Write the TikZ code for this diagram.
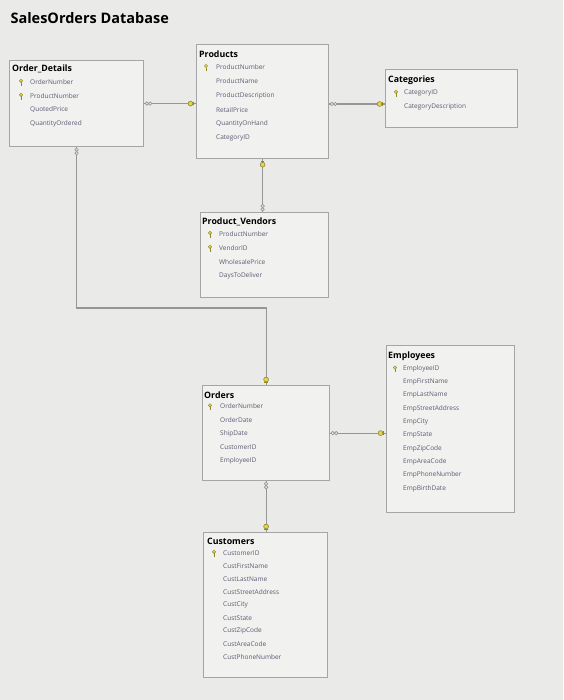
\documentclass[tikz,border=0pt]{standalone}
\usepackage{fontspec}
\setmainfont{Open Sans}
\usetikzlibrary{positioning}

\definecolor{bgcol}{RGB}{234,234,232}
\definecolor{boxfill}{RGB}{241,241,239}
\definecolor{boxline}{RGB}{165,165,165}
\definecolor{linkcol}{RGB}{150,150,150}
\definecolor{fieldcol}{RGB}{95,90,115}
\definecolor{keyyel}{RGB}{224,214,80}
\definecolor{keydark}{RGB}{145,135,40}

\begin{document}
\begin{tikzpicture}[x=1pt,y=-1pt]
	\tikzset{table/.style={draw=boxline, fill=boxfill, line width=1.2pt, anchor=north west, inner sep=0pt},
		tabname/.style={anchor=west, font=\fontsize{8.8}{10}\selectfont\bfseries, inner sep=0pt},
		field/.style={anchor=west, font=\fontsize{6.5}{7.5}\selectfont, text=fieldcol, inner sep=0pt},
		link/.style={draw=linkcol, line width=1.2pt},
		manyend/.pic={\filldraw[fill=bgcol, draw=linkcol, line width=0.7pt] (2.6,0) circle (1.7) (6,0) circle (1.7);},
		oneend/.pic={\filldraw[fill=keyyel, draw=keydark, line width=0.6pt] (5.5,0) circle (2.4);
			\draw[keydark, line width=0.8pt] (2.5,-1.8) -- (2.5,1.8);},
		pkey/.pic={\filldraw[fill=keyyel, draw=keydark, line width=0.4pt] (0,-1.2) circle (1.7);
			\draw[keydark, line width=0.7pt] (0,0.4) -- (0,3) (0,2) -- (1,2) (0,3) -- (1,3);} }

	\fill[bgcol] (0,0) rectangle (563,700);
	\node[anchor=west, font=\fontsize{14.5}{16}\selectfont\bfseries] (title) at (7,18) {SalesOrders Database};

	% tables
	\node[table, minimum width=134, minimum height=86] (od) at (9,60) {};
	\node[table, minimum width=132, minimum height=114] (prod) at (196,44) {};
	\node[table, minimum width=132, minimum height=58] (cat) at (385,69) {};
	\node[table, minimum width=128, minimum height=85] (pv) at (200,212) {};
	\node[table, minimum width=127, minimum height=95] (ord) at (202,385) {};
	\node[table, minimum width=128, minimum height=167] (emp) at (386,345) {};
	\node[table, minimum width=124, minimum height=145] (cust) at (203,532) {};

	\node[tabname] (od-t) at (12,69) {Order\_Details};
	\foreach \f [count=\i] in {OrderNumber, ProductNumber, QuotedPrice, QuantityOrdered}
		\node[field] (od-\i) at (30,{68+14*\i}) {\f};
	\pic at ([xshift=-9pt]od-1.west) {pkey};
	\pic at ([xshift=-9pt]od-2.west) {pkey};

	\node[tabname] (prod-t) at (199,54) {Products};
	\foreach \f [count=\i] in {ProductNumber, ProductName, ProductDescription, RetailPrice, QuantityOnHand, CategoryID}
		\node[field] (prod-\i) at (216,{53+14.2*\i}) {\f};
	\pic at ([xshift=-10pt]prod-1.west) {pkey};

	\node[tabname] (cat-t) at (388,80) {Categories};
	\foreach \f [count=\i] in {CategoryID, CategoryDescription}
		\node[field] (cat-\i) at (404,{79+14*\i}) {\f};
	\pic at ([xshift=-8pt]cat-1.west) {pkey};

	\node[tabname] (pv-t) at (202,222) {Product\_Vendors};
	\foreach \f [count=\i] in {ProductNumber, VendorID, WholesalePrice, DaysToDeliver}
		\node[field] (pv-\i) at (219,{220+14*\i}) {\f};
	\pic at ([xshift=-9pt]pv-1.west) {pkey};
	\pic at ([xshift=-9pt]pv-2.west) {pkey};

	\node[tabname] (ord-t) at (204,395) {Orders};
	\foreach \f [count=\i] in {OrderNumber, OrderDate, ShipDate, CustomerID, EmployeeID}
		\node[field] (ord-\i) at (220,{393+13.5*\i}) {\f};
	\pic at ([xshift=-10pt]ord-1.west) {pkey};

	\node[tabname] (emp-t) at (388,356) {Employees};
	\foreach \f [count=\i] in {EmployeeID, EmpFirstName, EmpLastName, EmpStreetAddress, EmpCity, EmpState, EmpZipCode, EmpAreaCode, EmpPhoneNumber, EmpBirthDate}
		\node[field] (emp-\i) at (403,{355.5+13.3*\i}) {\f};
	\pic at ([xshift=-8pt]emp-1.west) {pkey};

	\node[tabname] (cust-t) at (207,541) {Customers};
	\foreach \f [count=\i] in {CustomerID, CustFirstName, CustLastName, CustStreetAddress, CustCity, CustState, CustZipCode, CustAreaCode, CustPhoneNumber}
		\node[field] (cust-\i) at (223,{540+13*\i}) {\f};
	\pic at ([xshift=-9pt]cust-1.west) {pkey};

	% relationships
	\coordinate (pc) at (0,104);
	\coordinate (bend) at (0,308);
	\draw[link] (od.east) -- (od.east -| prod.west);
	\draw[link] (prod.east |- pc) -- (cat.west |- pc);
	\draw[link] (prod.south) -- (prod.south |- pv.north);
	\draw[link] (od.south) -- (od.south |- bend) -| (ord.north);
	\draw[link] (ord.east) -- (ord.east -| emp.west);
	\draw[link] (ord.south) -- (ord.south |- cust.north);

	\pic at (od.east) {manyend};
	\pic[rotate=180] at (od.east -| prod.west) {oneend};
	\pic at (prod.east |- pc) {manyend};
	\pic[rotate=180] at (cat.west |- pc) {oneend};
	\pic[rotate=-90] at (prod.south) {oneend};
	\pic[rotate=90] at (prod.south |- pv.north) {manyend};
	\pic[rotate=-90] at (od.south) {manyend};
	\pic[rotate=90] at (ord.north) {oneend};
	\pic at (ord.east) {manyend};
	\pic[rotate=180] at (ord.east -| emp.west) {oneend};
	\pic[rotate=-90] at (ord.south) {manyend};
	\pic[rotate=90] at (ord.south |- cust.north) {oneend};
\end{tikzpicture}
\end{document}
